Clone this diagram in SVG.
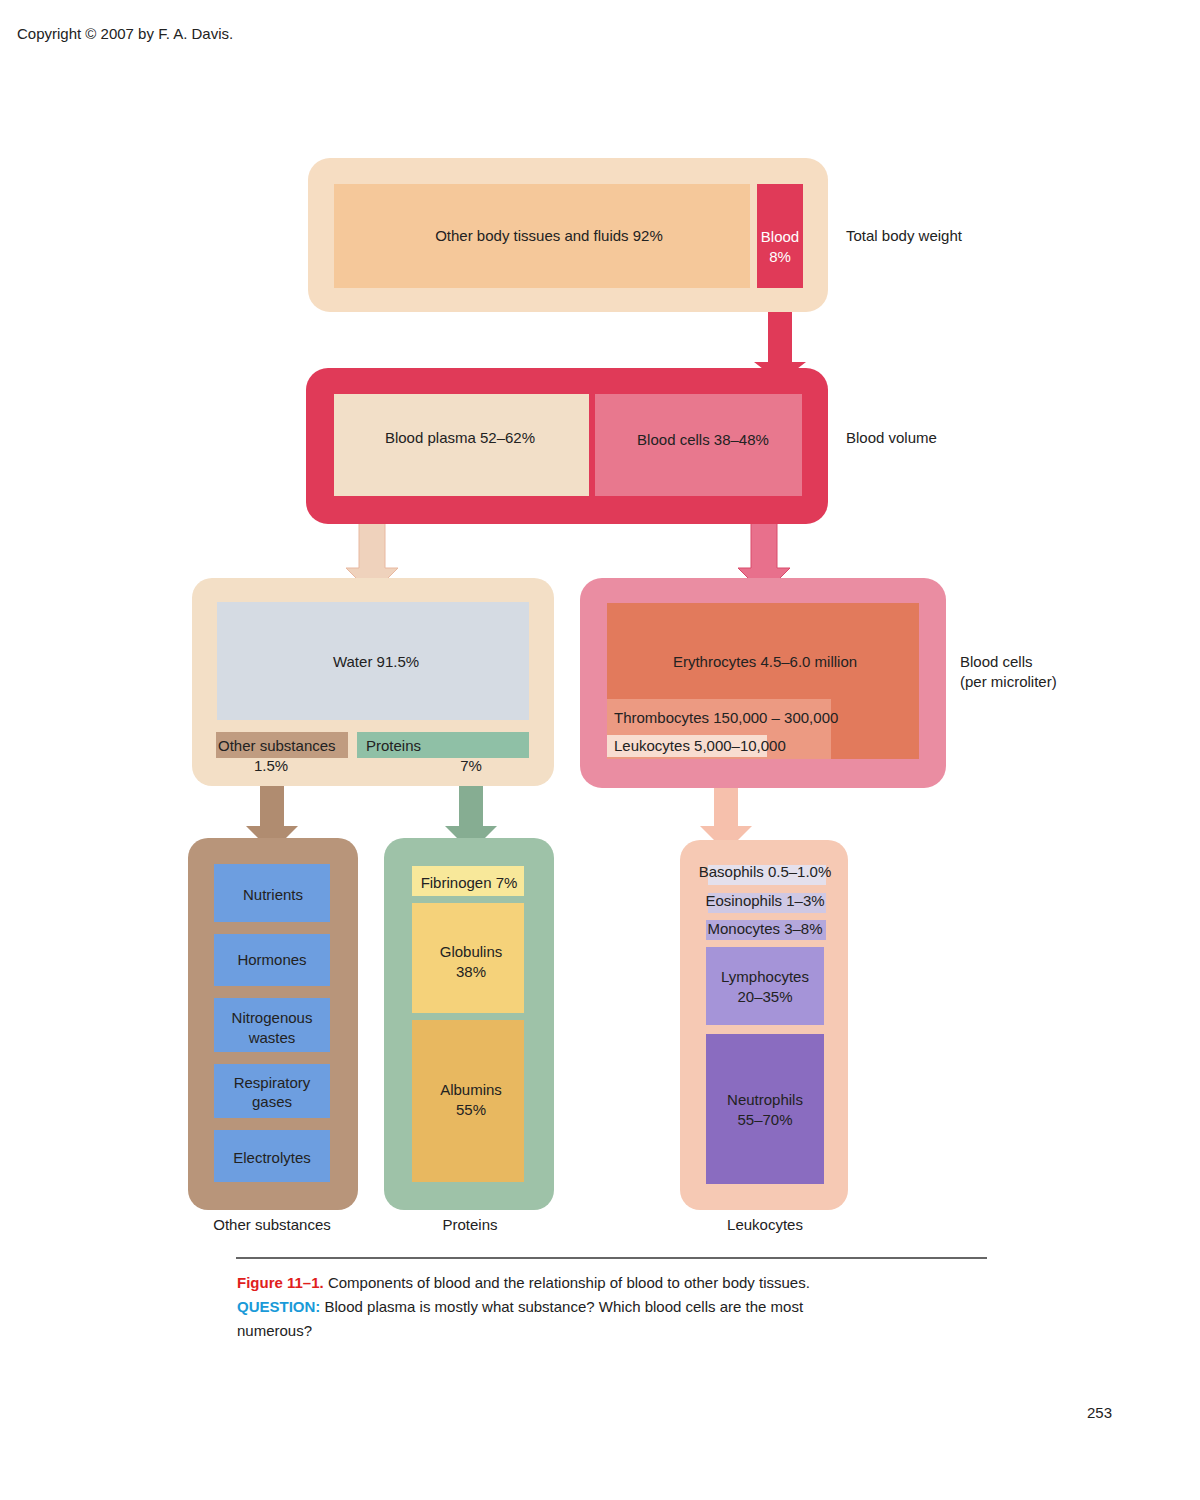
<svg xmlns="http://www.w3.org/2000/svg" width="1200" height="1500" viewBox="0 0 1200 1500">
<style>
text{font-family:"Liberation Sans",Arial,sans-serif;font-size:15px;fill:#222}
.c{text-anchor:middle}
.w{fill:#fff}
</style>
<rect width="1200" height="1500" fill="#fff"/>
<text x="17" y="39" font-size="17">Copyright © 2007 by F. A. Davis.</text>
<g id="connectors">
<path d="M768,300 H792 V362 H806 L780,382 L754,362 H768 Z" fill="#e03a58"/>
<path d="M359,512 H385 V568 H398 L372,594 L346,568 H359 Z" fill="#efd2bc" stroke="#e8b8a0"/>
<path d="M751,512 H777 V568 H790 L764,594 L738,568 H751 Z" fill="#e8708c" stroke="#d84a6a"/>
<path d="M260,772 H284 V826 H298 L272,852 L246,826 H260 Z" fill="#b08c70"/>
<path d="M459,772 H483 V826 H497 L471,852 L445,826 H459 Z" fill="#86ad92"/>
<path d="M714,772 H738 V826 H752 L726,852 L700,826 H714 Z" fill="#f6c0ac"/>
</g>
<g id="total">
<rect x="308" y="158" width="520" height="154" rx="22" fill="#f6ddc2"/>
<rect x="334" y="184" width="416" height="104" fill="#f5c89a"/>
<rect x="757" y="184" width="46" height="104" fill="#e03a58"/>
<text class="c" x="549" y="241">Other body tissues and fluids 92%</text>
<text class="c w" x="780" y="242">Blood</text>
<text class="c w" x="780" y="262">8%</text>
<text x="846" y="241">Total body weight</text>
</g>
<g id="bloodvolume">
<rect x="306" y="368" width="522" height="156" rx="22" fill="#e03a58"/>
<rect x="334" y="394" width="255" height="102" fill="#f2dfc8"/>
<rect x="595" y="394" width="207" height="102" fill="#e8788e"/>
<text class="c" x="460" y="443">Blood plasma 52–62%</text>
<text class="c" x="703" y="445">Blood cells 38–48%</text>
<text x="846" y="443">Blood volume</text>
</g>
<g id="plasma">
<rect x="192" y="578" width="362" height="208" rx="20" fill="#f3dfc6"/>
<rect x="217" y="602" width="312" height="118" fill="#d5dbe3"/>
<rect x="216" y="732" width="132" height="26" fill="#c09c80"/>
<rect x="357" y="732" width="172" height="26" fill="#8fc0a6"/>
<text class="c" x="376" y="667">Water 91.5%</text>
<text x="218" y="751">Other substances</text>
<text class="c" x="271" y="771">1.5%</text>
<text x="366" y="751">Proteins</text>
<text class="c" x="471" y="771">7%</text>
</g>
<g id="cells">
<rect x="580" y="578" width="366" height="210" rx="22" fill="#ea8da2"/>
<rect x="607" y="603" width="312" height="96" fill="#e27a5c"/>
<rect x="831" y="699" width="88" height="60" fill="#e27a5c"/>
<rect x="607" y="699" width="224" height="60" fill="#ec9a82"/>
<rect x="607" y="735" width="160" height="22" fill="#f8ddd0"/>
<text class="c" x="765" y="667">Erythrocytes 4.5–6.0 million</text>
<text x="614" y="723">Thrombocytes   150,000 – 300,000</text>
<text x="614" y="751">Leukocytes  5,000–10,000</text>
<text x="960" y="667">Blood cells</text>
<text x="960" y="687">(per microliter)</text>
</g>
<g id="other">
<rect x="188" y="838" width="170" height="372" rx="20" fill="#b8957a"/>
<rect x="214" y="864" width="116" height="58" fill="#6d9ee0"/>
<rect x="214" y="934" width="116" height="52" fill="#6d9ee0"/>
<rect x="214" y="998" width="116" height="54" fill="#6d9ee0"/>
<rect x="214" y="1064" width="116" height="54" fill="#6d9ee0"/>
<rect x="214" y="1130" width="116" height="52" fill="#6d9ee0"/>
<text class="c" x="273" y="900">Nutrients</text>
<text class="c" x="272" y="965">Hormones</text>
<text class="c" x="272" y="1023">Nitrogenous</text>
<text class="c" x="272" y="1043">wastes</text>
<text class="c" x="272" y="1088">Respiratory</text>
<text class="c" x="272" y="1107">gases</text>
<text class="c" x="272" y="1163">Electrolytes</text>
<text class="c" x="272" y="1230">Other substances</text>
</g>
<g id="proteins">
<rect x="384" y="838" width="170" height="372" rx="20" fill="#9ec2a8"/>
<rect x="412" y="866" width="112" height="30" fill="#f8e89a"/>
<rect x="412" y="903" width="112" height="110" fill="#f5d27a"/>
<rect x="412" y="1020" width="112" height="162" fill="#e8b860"/>
<text class="c" x="469" y="888">Fibrinogen 7%</text>
<text class="c" x="471" y="957">Globulins</text>
<text class="c" x="471" y="977">38%</text>
<text class="c" x="471" y="1095">Albumins</text>
<text class="c" x="471" y="1115">55%</text>
<text class="c" x="470" y="1230">Proteins</text>
</g>
<g id="leukocytes">
<rect x="680" y="840" width="168" height="370" rx="20" fill="#f6c9b4"/>
<rect x="708" y="865" width="118" height="20" fill="#e4e0ec"/>
<rect x="708" y="893" width="118" height="20" fill="#cfc8e4"/>
<rect x="706" y="920" width="120" height="20" fill="#b4a8dc"/>
<rect x="706" y="947" width="118" height="78" fill="#a594d8"/>
<rect x="706" y="1034" width="118" height="150" fill="#8a6cc0"/>
<text class="c" x="765" y="877">Basophils 0.5–1.0%</text>
<text class="c" x="765" y="906">Eosinophils  1–3%</text>
<text class="c" x="765" y="934">Monocytes 3–8%</text>
<text class="c" x="765" y="982">Lymphocytes</text>
<text class="c" x="765" y="1002">20–35%</text>
<text class="c" x="765" y="1105">Neutrophils</text>
<text class="c" x="765" y="1125">55–70%</text>
<text class="c" x="765" y="1230">Leukocytes</text>
</g>
<g id="caption">
<line x1="236" y1="1258" x2="987" y2="1258" stroke="#333" stroke-width="1.5"/>
<text x="237" y="1288" font-size="17"><tspan fill="#e0201c" font-weight="bold">Figure 11–1.</tspan>   Components of blood and the relationship of blood to other body tissues.</text>
<text x="237" y="1312" font-size="17"><tspan fill="#1a9ad8" font-weight="bold">QUESTION:</tspan> Blood plasma is mostly what substance? Which blood cells are the most</text>
<text x="237" y="1336" font-size="17">numerous?</text>
<text x="1112" y="1418" font-size="22" text-anchor="end" font-family="Liberation Serif,serif">253</text>
</g>
</svg>
